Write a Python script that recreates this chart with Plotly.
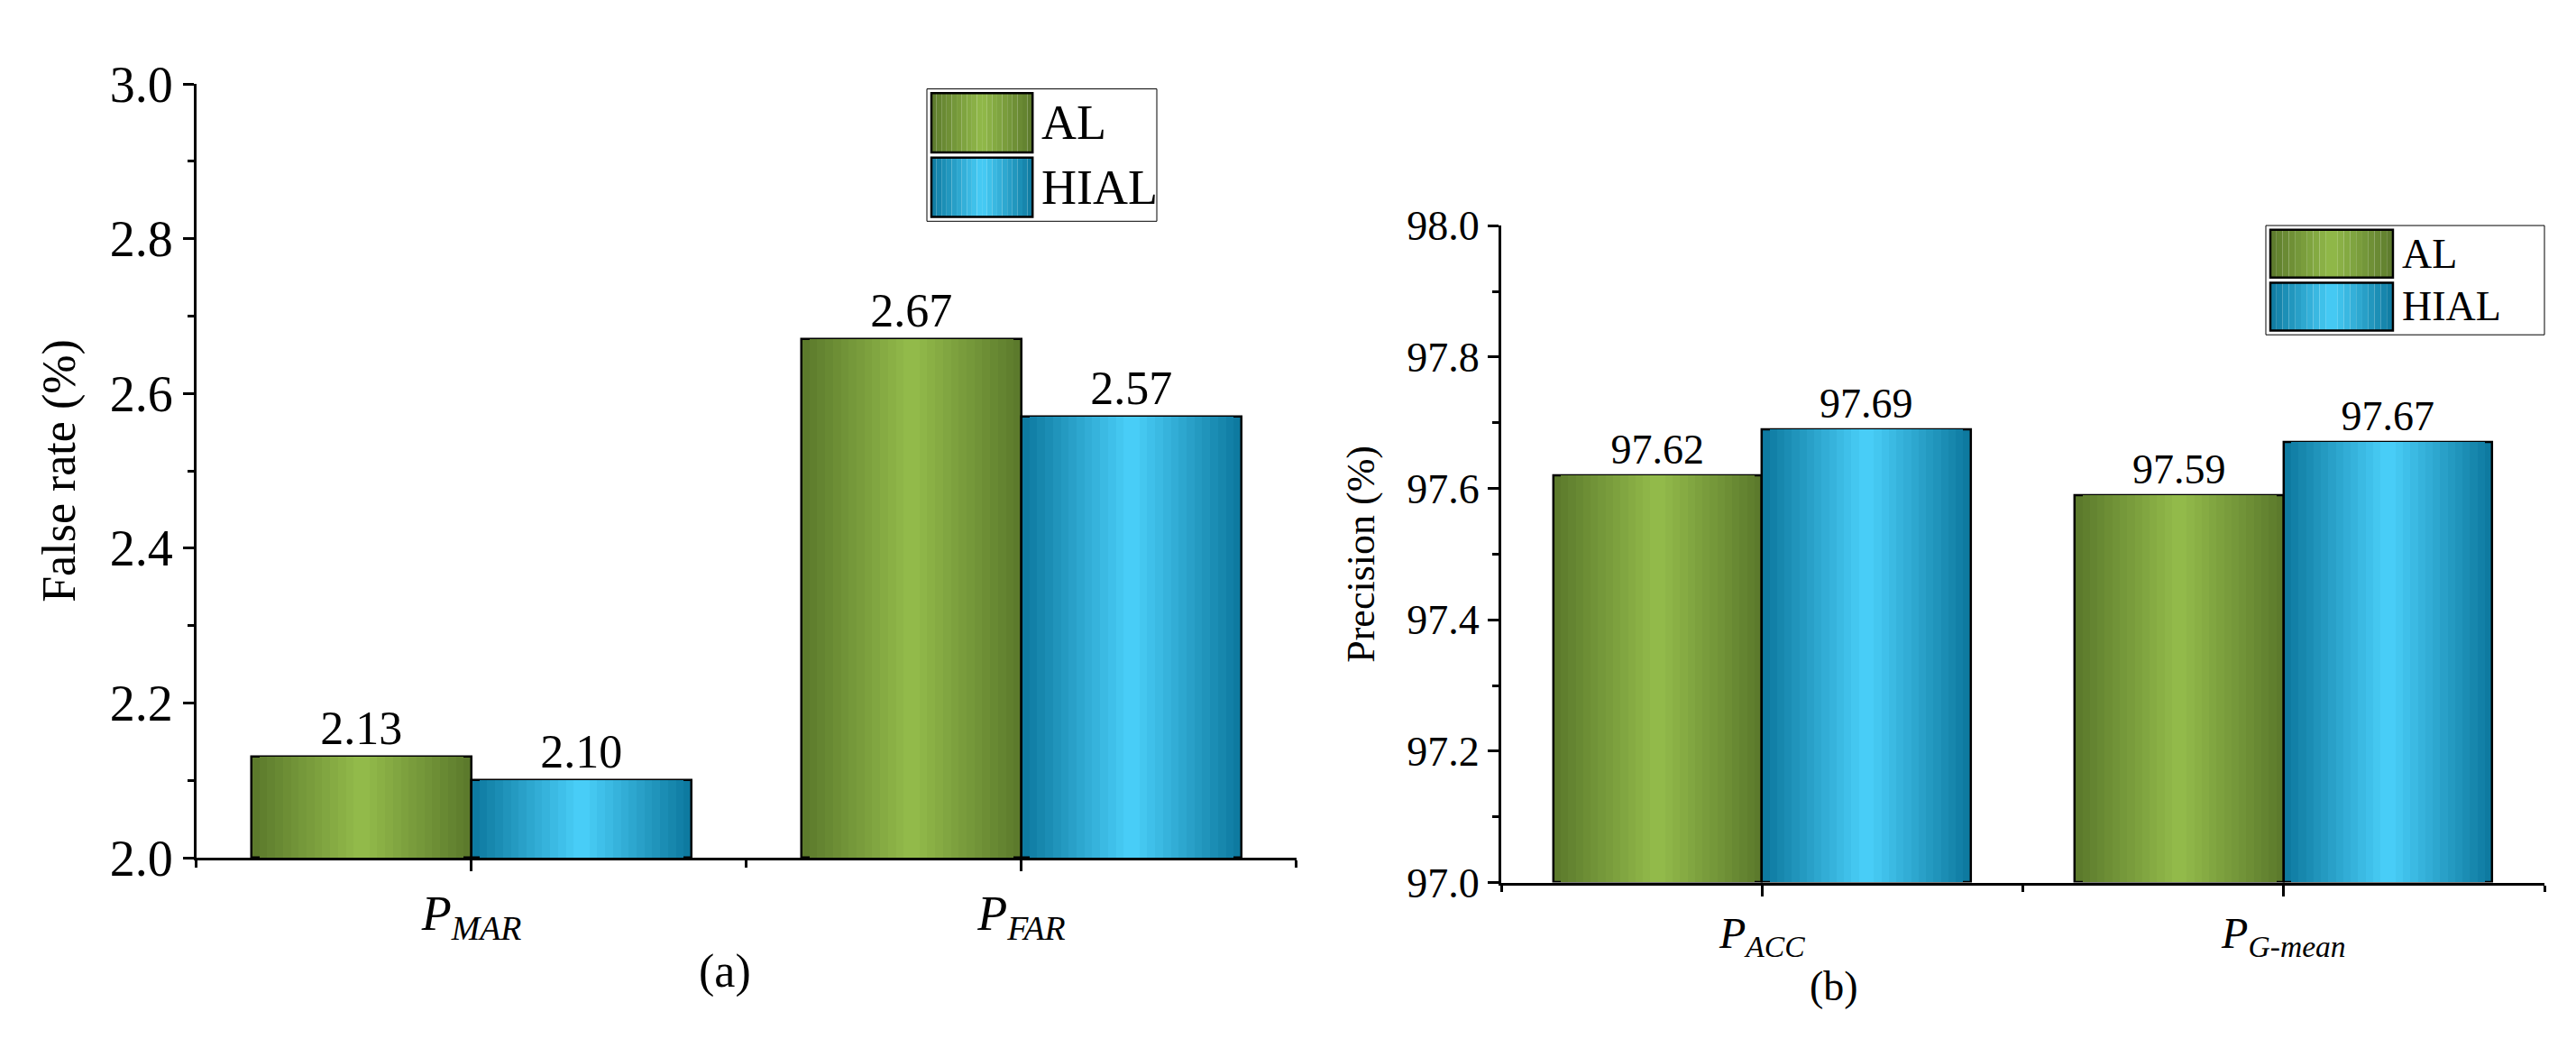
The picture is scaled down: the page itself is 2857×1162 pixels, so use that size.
import plotly.graph_objects as go

# data
cats_a = ["<i>P<sub>MAR</sub></i>", "<i>P<sub>FAR</sub></i>"]
al_a = [2.13, 2.67]
hial_a = [2.10, 2.57]

cats_b = ["<i>P<sub>ACC</sub></i>", "<i>P<sub>G-mean</sub></i>"]
al_b = [97.62, 97.59]
hial_b = [97.69, 97.67]

FONT = "Liberation Serif, Times New Roman, DejaVu Serif, serif"
AL_DARK, AL_LIGHT = (92, 122, 44), (146, 186, 74)
HI_DARK, HI_LIGHT = (14, 122, 160), (72, 205, 247)
N = 14


def mix(c1, c2, t):
    return "rgb(%d,%d,%d)" % tuple(round(a + (b - a) * t) for a, b in zip(c1, c2))


fig = go.Figure()


def add_series(vals, base, xaxis, yaxis, off, dark, light, fmt, fsize):
    xs = [i + off for i in range(len(vals))]
    for k in range(N):
        w = 0.4 * (1 - k / N)
        outer = k == 0
        fig.add_trace(go.Bar(
            x=xs, y=[v - base for v in vals], base=base, width=w,
            marker=dict(color=mix(dark, light, k / (N - 1)),
                        line=dict(color="black", width=2.5 if outer else 0)),
            text=[fmt % v for v in vals] if outer else None,
            textposition="outside", cliponaxis=False,
            textfont=dict(family=FONT, size=fsize, color="black"),
            xaxis=xaxis, yaxis=yaxis, showlegend=False, hoverinfo="skip"))


add_series(al_a, 2.0, "x", "y", -0.2, AL_DARK, AL_LIGHT, "%.2f", 52)
add_series(hial_a, 2.0, "x", "y", 0.2, HI_DARK, HI_LIGHT, "%.2f", 52)
add_series(al_b, 97.0, "x2", "y2", -0.2, AL_DARK, AL_LIGHT, "%.2f", 46)
add_series(hial_b, 97.0, "x2", "y2", 0.2, HI_DARK, HI_LIGHT, "%.2f", 46)

fig.update_layout(barmode="overlay", bargap=0)

axis_common = dict(showgrid=False, zeroline=False, showline=True, linecolor="black",
                   linewidth=3, ticks="outside", tickwidth=3, ticklen=12,
                   tickcolor="black")
fig.update_layout(
    width=2857, height=1162, margin=dict(l=0, r=0, t=0, b=0),
    plot_bgcolor="white", paper_bgcolor="white",
    font=dict(family=FONT, color="black"),
    xaxis=dict(domain=[0.0735, 0.5005], anchor="y", range=[-0.5, 1.5],
               tickvals=[0, 1], ticktext=cats_a,
               tickfont=dict(family=FONT, size=54, color="black"),
               minor=dict(tickvals=[-0.5, 0.5, 1.5], ticklen=8, tickwidth=3,
                          ticks="outside", tickcolor="black"),
               **axis_common),
    yaxis=dict(domain=[0.170, 0.950], anchor="x", range=[2.0, 3.0], dtick=0.2,
               tickformat=".1f",
               tickfont=dict(family=FONT, size=56, color="black"),
               minor=dict(dtick=0.1, ticklen=7, tickwidth=3, ticks="outside",
                          tickcolor="black"),
               title=dict(text="False rate (%)", standoff=22,
                          font=dict(family=FONT, size=52, color="black")),
               **axis_common),
    xaxis2=dict(domain=[0.580, 0.985], anchor="y2", range=[-0.5, 1.5],
                tickvals=[0, 1], ticktext=cats_b,
                tickfont=dict(family=FONT, size=48, color="black"),
                minor=dict(tickvals=[-0.5, 0.5, 1.5], ticklen=7, tickwidth=3,
                           ticks="outside", tickcolor="black"),
                **axis_common),
    yaxis2=dict(domain=[0.145, 0.807], anchor="x2", range=[97.0, 98.0], dtick=0.2,
                tickformat=".1f",
                tickfont=dict(family=FONT, size=46, color="black"),
                minor=dict(dtick=0.1, ticklen=7, tickwidth=3, ticks="outside",
                           tickcolor="black"),
                title=dict(text="Precision (%)", standoff=22,
                           font=dict(family=FONT, size=44, color="black")),
                **axis_common),
)

fig.add_annotation(text="(a)", x=765 / 2857, y=1 - 1098 / 1162, xref="paper",
                   yref="paper", showarrow=False, yanchor="middle",
                   font=dict(family=FONT, size=52, color="black"))
fig.add_annotation(text="(b)", x=2055 / 2857, y=1 - 1115 / 1162, xref="paper",
                   yref="paper", showarrow=False, yanchor="middle",
                   font=dict(family=FONT, size=46, color="black"))


# custom legends with gradient swatches (pixel coords -> paper)
def legend(x0, y0, x1, y1, fsize):
    W, H = 2857, 1162
    fig.add_shape(type="rect", xref="paper", yref="paper",
                  x0=x0 / W, x1=x1 / W, y0=1 - y1 / H, y1=1 - y0 / H,
                  line=dict(color="black", width=1), fillcolor="white")
    gap = 6
    rh = (y1 - y0 - 10 - gap) / 2
    sw = (x1 - x0) * 0.44
    for j, (name, dark, light) in enumerate([("AL", AL_DARK, AL_LIGHT),
                                             ("HIAL", HI_DARK, HI_LIGHT)]):
        ry0 = y0 + 5 + j * (rh + gap)
        ry1 = ry0 + rh
        sx0 = x0 + 5
        strips = 20
        for s in range(strips):
            t = 1 - abs((s + 0.5) / strips - 0.5) * 2
            fig.add_shape(type="rect", xref="paper", yref="paper",
                          x0=(sx0 + sw * s / strips) / W,
                          x1=(sx0 + sw * (s + 1) / strips) / W,
                          y0=1 - ry1 / H, y1=1 - ry0 / H,
                          line=dict(width=0), fillcolor=mix(dark, light, t))
        fig.add_shape(type="rect", xref="paper", yref="paper",
                      x0=sx0 / W, x1=(sx0 + sw) / W, y0=1 - ry1 / H, y1=1 - ry0 / H,
                      line=dict(color="black", width=2.5))
        fig.add_annotation(text=name, x=(sx0 + sw + 8) / W,
                           y=1 - (ry0 + ry1) / 2 / H, xref="paper", yref="paper",
                           xanchor="left", yanchor="middle", showarrow=False,
                           font=dict(family=FONT, size=fsize, color="black"))


legend(1020, 64, 1275, 219, 54)
legend(2505, 224, 2814, 352, 46)

fig.write_html("out.html")
